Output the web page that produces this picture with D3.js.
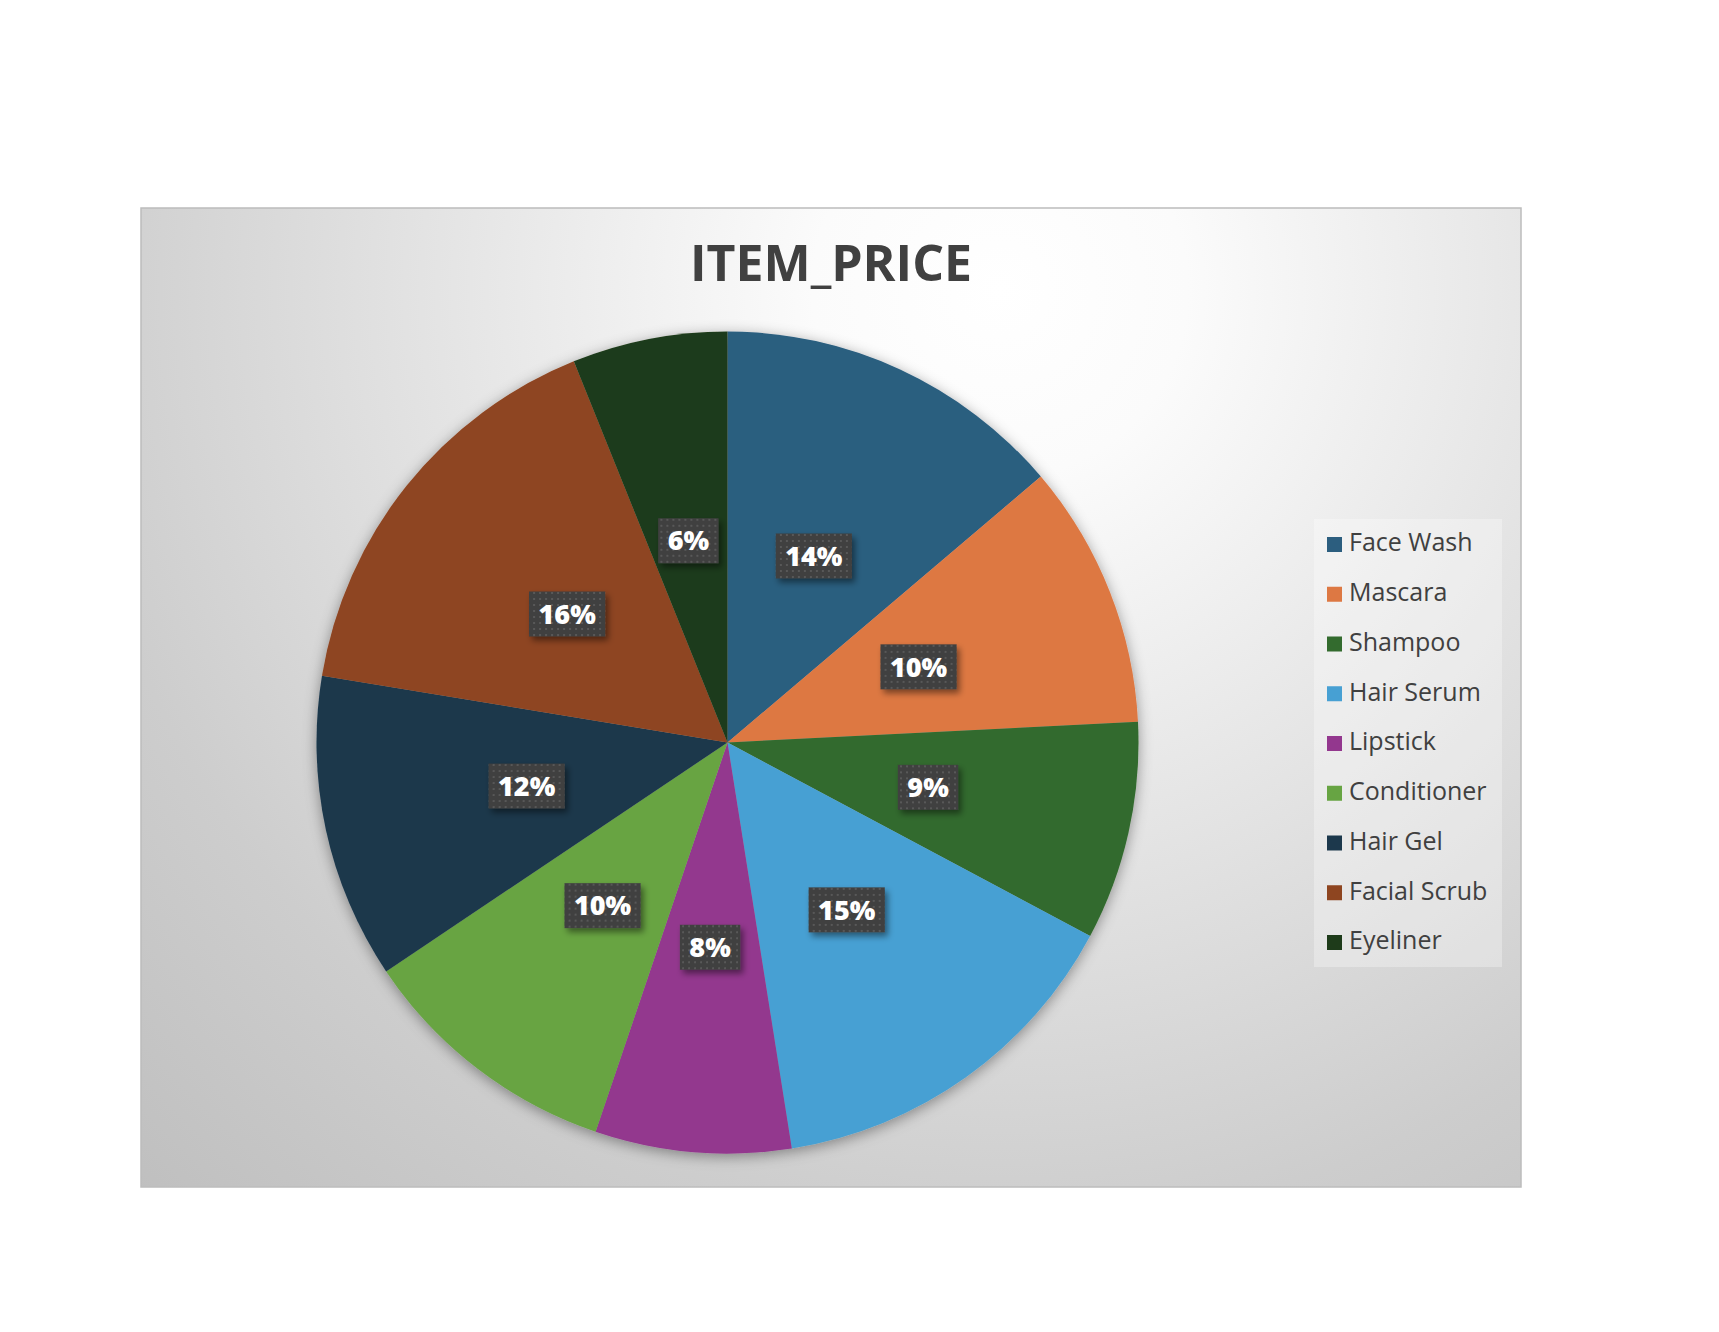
<!DOCTYPE html>
<html>
<head>
<meta charset="utf-8">
<script src="https://cdn.jsdelivr.net/npm/d3@7"></script>
<style>
  html, body { margin: 0; padding: 0; background: #ffffff; }
  svg { display: block; }
</style>
</head>
<body>
<svg id="chart" width="1719" height="1332"></svg>
<script>
// ---- data ----
const title = "ITEM_PRICE";
const categories = ["Face Wash", "Mascara", "Shampoo", "Hair Serum", "Lipstick", "Conditioner", "Hair Gel", "Facial Scrub", "Eyeliner"];
const values = [13.8, 10.4, 8.6, 14.7, 7.7, 10.4, 12.0, 16.3, 6.1];
const sliceColors = ["#2c5e7f", "#dd7843", "#336b2e", "#47a0d3", "#93378e", "#67a443", "#1c384c", "#8e4520", "#1e3b1a"];

// ---- layout ----
const svg = d3.select("#chart");
const box = { x: 141, y: 208, w: 1380, h: 979 };
const cx = 727.5, cy = 742.5, R = 411;

const defs = svg.append("defs");
const bg = defs.append("radialGradient").attr("id", "bgGrad")
  .attr("gradientUnits", "userSpaceOnUse")
  .attr("cx", 1000).attr("cy", 290).attr("r", 1250);
[[0, "#ffffff"], [0.15, "#fbfbfb"], [0.45, "#e4e4e4"], [0.75, "#cdcdcd"], [1, "#bfbfbf"]]
  .forEach(([o, c]) => bg.append("stop").attr("offset", o).attr("stop-color", c));

const pat = defs.append("pattern").attr("id", "dots")
  .attr("patternUnits", "userSpaceOnUse").attr("width", 6).attr("height", 6);
pat.append("rect").attr("width", 6).attr("height", 6).attr("fill", "#3f3f3f");
pat.append("rect").attr("x", 2).attr("y", 2).attr("width", 2).attr("height", 2).attr("fill", "#595959");

const pieShadow = defs.append("filter").attr("id", "pieShadow")
  .attr("x", "-10%").attr("y", "-10%").attr("width", "120%").attr("height", "120%");
pieShadow.append("feDropShadow").attr("dx", 0).attr("dy", 3).attr("stdDeviation", 7)
  .attr("flood-color", "#000").attr("flood-opacity", 0.38);

const lblShadow = defs.append("filter").attr("id", "lblShadow")
  .attr("x", "-30%").attr("y", "-30%").attr("width", "160%").attr("height", "160%");
lblShadow.append("feDropShadow").attr("dx", 3).attr("dy", 4).attr("stdDeviation", 3)
  .attr("flood-color", "#000").attr("flood-opacity", 0.45);

// chart area
svg.append("rect")
  .attr("x", box.x).attr("y", box.y).attr("width", box.w).attr("height", box.h)
  .attr("fill", "url(#bgGrad)").attr("stroke", "#bcbcbc").attr("stroke-width", 1.5);

// title
svg.append("text")
  .attr("x", box.x + box.w / 2).attr("y", 281)
  .attr("text-anchor", "middle")
  .attr("font-family", "'Open Sans', Inter, sans-serif")
  .attr("font-weight", 700).attr("font-size", 50)
  .attr("fill", "#404040")
  .text(title);

// pie
const color = d3.scaleOrdinal().domain(categories).range(sliceColors);
const pie = d3.pie().sort(null).value(d => d.value);
const data = categories.map((c, i) => ({ name: c, value: values[i] }));
const arcs = pie(data);
const total = d3.sum(values);
const arc = d3.arc().innerRadius(0).outerRadius(R);

const g = svg.append("g").attr("transform", `translate(${cx},${cy})`);
g.append("g").attr("filter", "url(#pieShadow)")
  .selectAll("path").data(arcs).join("path")
  .attr("d", arc)
  .attr("fill", d => color(d.data.name));

// labels
const lg = g.append("g").selectAll("g").data(arcs).join("g")
  .attr("transform", d => `translate(${arc.centroid(d)})`);
lg.each(function (d) {
  const sel = d3.select(this);
  const t = sel.append("text")
    .attr("text-anchor", "middle").attr("dy", "0.36em")
    .attr("font-family", "'Open Sans', Inter, sans-serif")
    .attr("font-weight", 800).attr("font-size", 27)
    .attr("fill", "#ffffff")
    .text(Math.round(d.data.value / total * 100) + "%");
  const w = t.node().getComputedTextLength() + 19;
  sel.insert("rect", "text")
    .attr("x", -w / 2).attr("y", -22.5).attr("width", w).attr("height", 45)
    .attr("fill", "url(#dots)").attr("filter", "url(#lblShadow)");
});

// legend
const leg = { x: 1314, y: 519, w: 188, h: 448 };
svg.append("rect").attr("x", leg.x).attr("y", leg.y).attr("width", leg.w).attr("height", leg.h)
  .attr("fill", "#ffffff").attr("fill-opacity", 0.3);
const ly = d3.scalePoint().domain(categories).range([544.5, 942.5]);
const li = svg.append("g").selectAll("g").data(categories).join("g")
  .attr("transform", d => `translate(1327,${ly(d)})`);
li.append("rect").attr("x", 0).attr("y", -7.5).attr("width", 15).attr("height", 15)
  .attr("fill", d => color(d));
li.append("text").attr("x", 22).attr("y", -2).attr("dy", "0.35em")
  .attr("font-family", "'Open Sans', Inter, sans-serif")
  .attr("font-size", 25).attr("fill", "#404040")
  .text(d => d);
</script>
</body>
</html>
